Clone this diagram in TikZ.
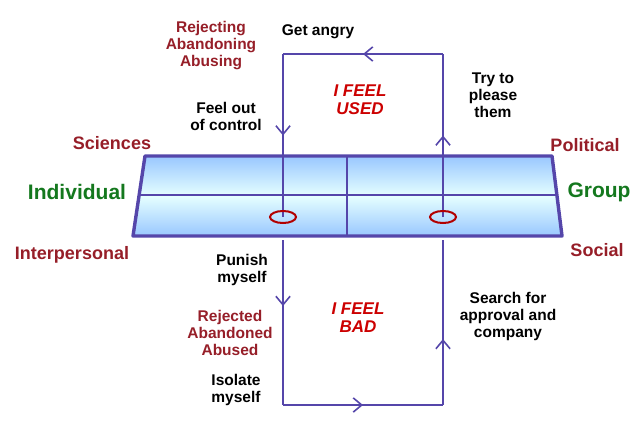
\documentclass[tikz,border=0pt]{standalone}
\usepackage{fontspec}
\setmainfont{Liberation Sans}
\usetikzlibrary{arrows.meta, decorations.markings, positioning}
\definecolor{loopblue}{RGB}{85,70,170}
\definecolor{darkred}{RGB}{150,30,40}
\definecolor{darkgreen}{RGB}{20,120,30}
\tikzset{
    loopline/.style={draw=loopblue, line width=2.6pt},
    midarrow/.style={postaction={decorate}, decoration={markings, mark=at position #1 with {\arrow{Straight Barb[length=3mm,width=5mm,line width=1.6pt]}}}},
    axislabel/.style={font=\bfseries\fontsize{18}{20}\selectfont, text=darkred},
    sidelabel/.style={font=\bfseries\fontsize{21}{23}\selectfont, text=darkgreen},
    steplabel/.style={font=\bfseries\fontsize{15.5}{17}\selectfont, align=center},
    feeling/.style={font=\bfseries\itshape\fontsize{17}{18}\selectfont, text=red!80!black, align=center},
}
\begin{document}
\begin{tikzpicture}[x=1pt,y=-1pt]
\useasboundingbox (0,0) rectangle (639,421);

% Panel corners
\coordinate (tl) at (145,156);
\coordinate (tr) at (552,156);
\coordinate (bl) at (133,236);
\coordinate (br) at (562,236);
\coordinate (ml) at (139,195);
\coordinate (mr) at (557,195);
\coordinate (mt) at (347,156);
\coordinate (mb) at (347,236);

% Panel
\fill[top color=cyan!45!blue!40, bottom color=cyan!45!blue!40, middle color=cyan!10] (tl) -- (tr) -- (br) -- (bl) -- cycle;
\draw[loopblue, line width=3.4pt, line join=round] (tl) -- (tr) -- (br) -- (bl) -- cycle;
\draw[loopblue, line width=2.8pt] (ml) -- (mr) (mt) -- (mb);

% Loop corners
\coordinate (ua) at (283,54);
\coordinate (ub) at (443,54);
\coordinate (la) at (283,240);
\coordinate (lb) at (443,240);
\coordinate (da) at (283,405);
\coordinate (db) at (443,405);
\coordinate (ca) at (283,217);
\coordinate (cb) at (443,217);

% Upper loop
\draw[loopline, midarrow=0.5] (ub) -- (ua);
\draw[loopline, midarrow=0.5] (ua) -- (ca);
\draw[loopline, midarrow=0.5] (cb) -- (ub);

% Lower loop
\draw[loopline, midarrow=0.4] (la) -- (da);
\draw[loopline, midarrow=0.5] (da) -- (db);
\draw[loopline, midarrow=0.4] (db) -- (lb);

% Rings
\draw[red!70!black, line width=2pt] (ca) ellipse (13 and 6);
\draw[red!70!black, line width=2pt] (cb) ellipse (13 and 6);

% Axis labels
\node[axislabel] (sci) at (112,143) {Sciences};
\node[axislabel] (pol) at (585,145) {Political};
\node[sidelabel] (ind) at (77,192) {Individual};
\node[sidelabel] (grp) at (599,192) {Group};
\node[axislabel] (inter) at (72,255) {Interpersonal};
\node[axislabel] (soc) at (597,250) {Social};

% Feelings
\node[feeling] (used) at (360,100) {I FEEL\\USED};
\node[feeling] (bad) at (358,318) {I FEEL\\BAD};

% Steps
\node[steplabel, text=darkred] (rej) at (211,46) {Rejecting\\Abandoning\\Abusing};
\node[steplabel] (angry) at (318,32) {Get angry};
\node[steplabel] (ctrl) at (226,116) {Feel out\\of control};
\node[steplabel] (please) at (493,95) {Try to\\please\\them};
\node[steplabel] (punish) at (242,270) {Punish\\myself};
\node[steplabel, text=darkred] (rejd) at (230,333) {Rejected\\Abandoned\\Abused};
\node[steplabel] (isol) at (236,390) {Isolate\\myself};
\node[steplabel] (search) at (508,316) {Search for\\approval and\\company};
\end{tikzpicture}
\end{document}
